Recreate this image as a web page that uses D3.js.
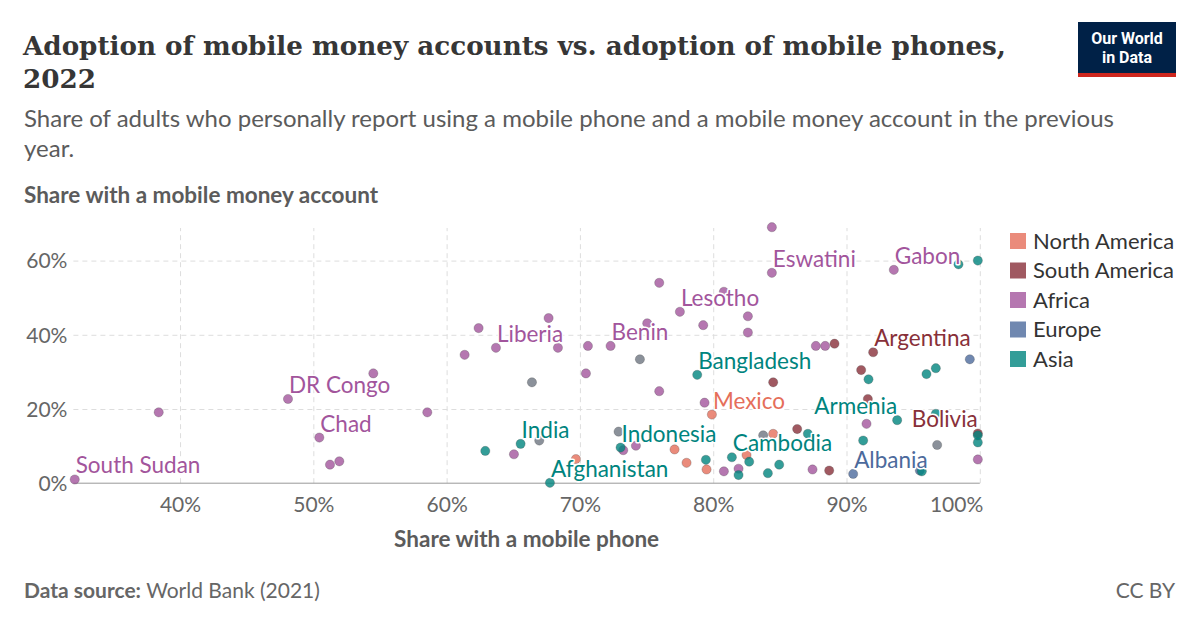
<!DOCTYPE html>
<html>
<head>
<meta charset="utf-8">
<script src="https://cdn.jsdelivr.net/npm/d3@7"></script>
<style>
  body { margin: 0; background: #fff; }
  svg { font-family: Lato, "Noto Sans", sans-serif; display: block; }
</style>
</head>
<body>
<div id="chart"></div>
<script>
// [share with mobile phone %, share with mobile money account %, label]
const northAmerica = [[79.9, 18.5, "Mexico"], [69.7, 6.5], [77.1, 9.1], [78.0, 5.5], [79.5, 3.7], [82.5, 7.6], [84.5, 13.3]]
const southAmerica = [[84.5, 27.2], [89.1, 37.6], [92.0, 35.3, "Argentina"], [91.1, 30.5], [86.3, 14.6], [88.7, 3.4], [91.6, 22.7], [99.85, 13.4, "Bolivia"]]
const africa = [
  [32.1, 1.0, "South Sudan"], [38.4, 19.1], [48.1, 22.7, "DR Congo"], [50.45, 12.3, "Chad"], [51.25, 5.0], [51.95, 5.9],
  [54.5, 29.6], [58.55, 19.1], [61.35, 34.6], [62.4, 41.8], [63.7, 36.5, "Liberia"], [67.65, 44.5], [68.35, 36.5],
  [70.45, 29.6], [70.6, 37.0], [72.3, 37.0, "Benin"], [75.05, 43.1], [75.95, 54.0], [77.5, 46.2, "Lesotho"],
  [79.25, 42.6], [80.8, 51.6], [82.6, 45.0], [82.6, 40.6], [84.4, 56.7, "Eswatini"], [84.4, 69.0], [75.95, 24.8],
  [79.35, 21.7], [87.7, 37.0], [88.4, 37.0], [93.55, 57.5, "Gabon"], [91.5, 16.0], [99.85, 6.4], [65.05, 7.8],
  [73.25, 8.9], [74.2, 10.1], [80.8, 3.2], [81.9, 3.9], [87.45, 3.7]
]
const europe = [[90.5, 2.5, "Albania"], [99.25, 33.4], [95.5, 3.4]]
const asia = [
  [67.75, 0.1, "Afghanistan"], [62.9, 8.7], [65.55, 10.6, "India"], [73.05, 9.6, "Indonesia"], [78.8, 29.2, "Bangladesh"],
  [79.45, 6.3], [81.4, 7.0, "Cambodia"], [82.7, 5.8], [81.9, 2.2], [84.1, 2.7], [84.95, 5.0], [87.1, 13.3],
  [91.65, 28.0], [91.25, 11.5], [93.8, 17.0, "Armenia"], [96.0, 29.4], [96.7, 31.0], [96.7, 18.7], [98.4, 59.0],
  [99.85, 60.0], [99.85, 11.0], [99.85, 12.9], [95.65, 3.2]
]
const other = [[66.4, 27.2], [74.5, 33.4], [66.95, 11.5], [72.9, 13.9], [83.75, 12.9], [96.8, 10.3]]

const legendNames = ["North America", "South America", "Africa", "Europe", "Asia"]
const xTicks = [40, 50, 60, 70, 80, 90, 100]
const yTicks = [0, 20, 40, 60]

const colors = new Map([
  ["North America", "#E56E5A"], ["South America", "#883039"], ["Africa", "#A2559C"],
  ["Europe", "#4C6A9C"], ["Asia", "#00847E"], ["Other", "#6e7681"]
])
const leftLabels = new Set(["Armenia", "Bolivia"])

const width = 1200, height = 627
const plot = { left: 73.4, right: 979.8, top: 228, bottom: 483.2 }

const svg = d3.select("#chart").append("svg").attr("width", width).attr("height", height)

const x = d3.scaleLinear().domain([32, 100]).range([plot.left, plot.right])
const y = d3.scaleLinear().domain([0, 69]).range([plot.bottom, 227.2])

// header
const title = svg.append("text").attr("font-family", "'DejaVu Serif', serif")
  .attr("font-size", 26.2).attr("font-weight", 700).attr("fill", "#363636")
title.append("tspan").attr("x", 23).attr("y", 55).text("Adoption of mobile money accounts vs. adoption of mobile phones,")
title.append("tspan").attr("x", 23).attr("y", 88).text("2022")

const sub = svg.append("text").attr("x", 24).attr("y", 127).attr("font-size", 24).attr("fill", "#5b5b5b")
sub.append("tspan").attr("x", 24).text("Share of adults who personally report using a mobile phone and a mobile money account in the previous")
sub.append("tspan").attr("x", 24).attr("dy", 30).text("year.")

// logo
const logo = svg.append("g").attr("transform", "translate(1078,22)")
logo.append("rect").attr("width", 98).attr("height", 55).attr("fill", "#002147")
logo.append("rect").attr("y", 51).attr("width", 98).attr("height", 4).attr("fill", "#ce261e")
logo.append("text").attr("x", 49).attr("y", 22).attr("text-anchor", "middle").attr("fill", "#fff")
  .attr("font-size", 16).attr("font-weight", 700).attr("font-family", "'Liberation Sans Narrow', Roboto, sans-serif").text("Our World")
logo.append("text").attr("x", 49).attr("y", 41).attr("text-anchor", "middle").attr("fill", "#fff")
  .attr("font-size", 16).attr("font-weight", 700).attr("font-family", "'Liberation Sans Narrow', Roboto, sans-serif").text("in Data")

// y axis title
svg.append("text").attr("x", 24).attr("y", 203).attr("font-size", 22.5).attr("font-weight", 700)
  .attr("fill", "#5b5b5b").text("Share with a mobile money account")

// grid + axes
const gx = svg.append("g").attr("transform", `translate(0,${plot.bottom})`)
  .call(d3.axisBottom(x).tickValues(xTicks).tickFormat(d => d + "%").tickSize(-(plot.bottom - plot.top)))
gx.select(".domain").remove()
gx.selectAll(".tick line").attr("stroke", "#ddd").attr("stroke-dasharray", "5,4")
gx.selectAll(".tick text").attr("font-size", 21).attr("fill", "#666").attr("y", 29).attr("dy", 0)
  .attr("font-family", "Lato, sans-serif")
  .each(function(d) {
    if (d === 100) d3.select(this).attr("text-anchor", "end").attr("x", 3)
  })

const gy = svg.append("g").attr("transform", `translate(${plot.left},0)`)
  .call(d3.axisLeft(y).tickValues(yTicks).tickFormat(d => d + "%").tickSize(-(plot.right - plot.left)))
gy.select(".domain").remove()
gy.selectAll(".tick line").attr("stroke", "#ddd").attr("stroke-dasharray", "5,4")
  .filter(d => d === 0).remove()
gy.selectAll(".tick text").attr("font-size", 21).attr("fill", "#666").attr("x", -6).attr("dy", "0.35em")
  .attr("font-family", "Lato, sans-serif")

svg.append("line").attr("x1", plot.left).attr("x2", plot.right).attr("y1", plot.bottom).attr("y2", plot.bottom)
  .attr("stroke", "#999").attr("stroke-width", 1)

svg.append("text").attr("x", (plot.left + plot.right) / 2).attr("y", 547).attr("text-anchor", "middle")
  .attr("font-size", 22.5).attr("font-weight", 700).attr("fill", "#5b5b5b").text("Share with a mobile phone")

// points
const series = [
  ["Other", other], ["North America", northAmerica], ["South America", southAmerica],
  ["Africa", africa], ["Europe", europe], ["Asia", asia]
]
const all = series.flatMap(([name, arr]) => arr.map(d => ({ region: name, phone: d[0], money: d[1], label: d[2] })))

svg.append("g").selectAll("circle").data(all).join("circle")
  .attr("cx", d => x(d.phone)).attr("cy", d => y(d.money)).attr("r", 4.6)
  .attr("fill", d => colors.get(d.region)).attr("fill-opacity", 0.8)
  .attr("stroke", "#444").attr("stroke-opacity", 0.45).attr("stroke-width", 0.6)

svg.append("g").selectAll("text").data(all.filter(d => d.label)).join("text")
  .attr("x", d => leftLabels.has(d.label) ? x(d.phone) : x(d.phone) + 1)
  .attr("y", d => y(d.money) - 6)
  .attr("text-anchor", d => leftLabels.has(d.label) ? "end" : "start")
  .attr("font-size", 22.5).attr("fill", d => colors.get(d.region))
  .attr("stroke", "#fff").attr("stroke-width", 3).attr("paint-order", "stroke").attr("stroke-linejoin", "round")
  .text(d => d.label)

// legend
const legend = svg.append("g").attr("transform", "translate(1010,241)")
legendNames.forEach((name, i) => {
  const row = legend.append("g").attr("transform", `translate(0,${i * 29.5})`)
  row.append("rect").attr("x", 0).attr("y", -8).attr("width", 16).attr("height", 16)
    .attr("fill", colors.get(name)).attr("fill-opacity", 0.8)
  row.append("text").attr("x", 23).attr("y", 0).attr("dy", "0.35em").attr("font-size", 22)
    .attr("fill", "#333").text(name)
})

// footer
const src = svg.append("text").attr("x", 24).attr("y", 598).attr("font-size", 21).attr("fill", "#666")
src.append("tspan").attr("font-weight", 700).text("Data source: ")
src.append("tspan").text("World Bank (2021)")
svg.append("text").attr("x", 1175).attr("y", 598).attr("text-anchor", "end").attr("font-size", 21)
  .attr("fill", "#666").text("CC BY")
</script>
</body>
</html>
